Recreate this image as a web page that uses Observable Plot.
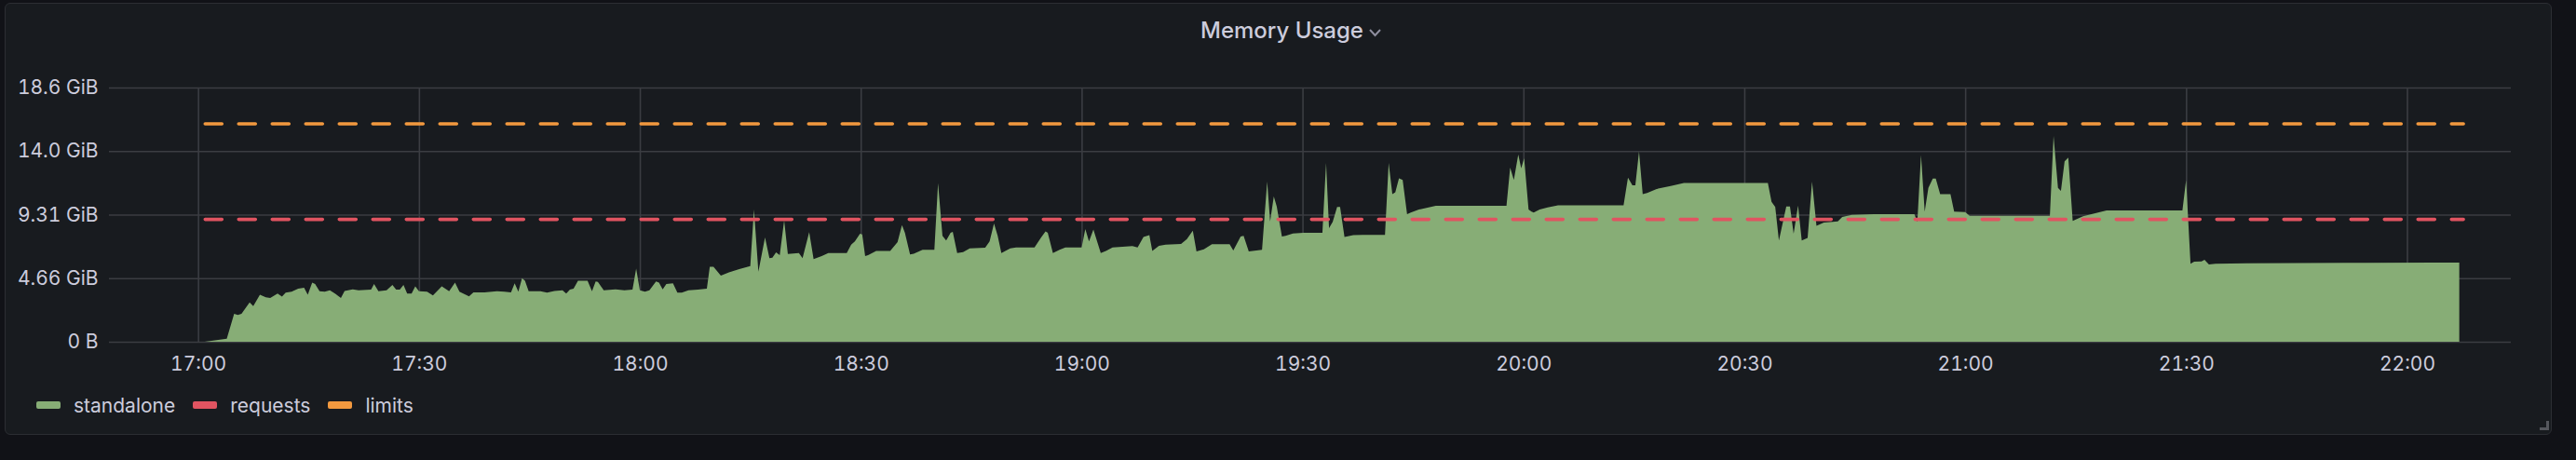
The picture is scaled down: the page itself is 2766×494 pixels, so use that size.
<!DOCTYPE html>
<html>
<head>
<meta charset="utf-8">
<script src="https://cdn.jsdelivr.net/npm/d3@7"></script>
<script src="https://cdn.jsdelivr.net/npm/@observablehq/plot@0.6"></script>
<style>
html,body{margin:0;padding:0;background:#111217;width:2766px;height:494px;overflow:hidden;font-family:Inter,"Noto Sans",sans-serif;}
#panel{position:absolute;left:5px;top:3px;width:2733px;height:462px;background:#181b1f;border:1px solid #2c2e33;border-radius:6px;}
#title{position:absolute;left:1289px;top:21px;font-size:24px;line-height:24px;font-weight:500;color:#ccccdc;white-space:nowrap;}
#chev{position:absolute;left:1470px;top:31px;}
#chart{position:absolute;left:0;top:0;}
#legend{position:absolute;left:39px;top:422px;height:26px;display:flex;align-items:center;font-size:21px;color:#ccccdc;white-space:nowrap;}
.item{display:flex;align-items:center;margin-right:19px;}
.sw{width:26px;height:8px;border-radius:2px;margin-right:14px;}
#handle{position:absolute;left:2727px;top:452px;width:7px;height:7px;border-right:3px solid #55575d;border-bottom:3px solid #55575d;}
</style>
</head>
<body>
<div id="panel"></div>
<div id="title">Memory Usage</div>
<svg id="chev" width="14" height="9"><polyline points="1,1 6.5,7 12,1" fill="none" stroke="#8e8e9e" stroke-width="2"/></svg>
<div id="chart"></div>
<div id="legend"></div>
<div id="handle"></div>
<script>
// ---- data (times in minutes after 17:00, memory in GB = 1e9 bytes) ----
const seriesNames = ["standalone", "requests", "limits"];
const seriesColors = ["#87ad76", "#e05461", "#f2993f"];

const xTickLabels = ["17:00","17:30","18:00","18:30","19:00","19:30","20:00","20:30","21:00","21:30","22:00"];
const yTickValues = [0, 5, 10, 15, 20];
const yTickLabels = ["0 B", "4.66 GiB", "9.31 GiB", "14.0 GiB", "18.6 GiB"];

const standaloneMinutes = [
  0.9,3.9,4.9,5.4,5.9,7.0,7.5,8.4,9.2,9.8,10.8,11.4,11.9,12.7,13.6,14.4,14.9,15.5,15.9,16.5,
  17.2,17.9,18.6,19.4,19.9,21.0,21.8,23.5,23.9,24.5,25.6,26.4,26.9,27.4,27.9,28.4,29.0,29.5,30.0,31.1,
  31.9,33.1,34.1,34.9,35.5,36.8,37.4,38.9,40.6,41.6,42.5,43.0,43.5,44.0,44.4,44.9,45.7,46.5,47.4,48.4,
  49.5,50.0,50.5,51.0,51.6,52.9,53.5,54.0,54.3,55.1,56.7,57.9,59.0,59.5,60.0,60.7,61.3,62.2,62.6,63.1,
  63.6,64.5,65.1,65.7,66.6,67.9,69.1,69.5,70.0,71.0,72.1,73.5,75.0,75.5,76.1,77.0,77.6,78.0,78.5,79.0,
  79.6,80.1,81.6,82.1,83.0,83.6,84.7,85.6,88.1,88.7,89.2,89.9,90.2,90.6,91.0,92.1,94.0,95.0,95.6,96.0,
  96.7,97.2,98.4,100.0,100.5,101.1,101.6,102.2,102.5,103.1,103.9,104.8,106.9,107.5,108.1,108.6,109.1,110.3,111.1,113.6,
  114.5,115.1,115.4,116.1,117.0,117.8,120.0,120.5,121.0,121.6,122.6,123.3,124.2,126.9,127.6,128.4,129.2,129.6,130.5,131.4,
  133.5,134.3,135.1,135.6,136.6,137.7,140.1,140.6,141.6,142.0,142.7,144.5,145.2,145.6,146.1,146.5,147.2,147.7,148.7,150.1,
  152.7,153.2,153.6,154.1,154.7,155.1,155.7,156.9,158.2,161.2,161.7,162.2,162.6,163.1,163.6,164.2,164.7,165.8,168.1,177.7,
  178.2,178.7,179.3,179.7,180.1,180.7,181.1,181.4,182.2,183.3,184.7,193.6,194.2,194.8,195.2,195.7,196.2,196.8,198.3,200.0,
  201.8,213.2,213.7,214.2,214.7,215.7,216.2,216.7,217.3,217.8,218.6,219.2,219.8,220.8,222.0,222.7,223.3,224.6,227.6,233.1,
  233.5,234.0,234.5,235.0,235.6,236.0,236.6,238.0,238.5,240.0,240.6,251.5,252.0,252.6,253.0,253.5,254.0,254.6,256.0,259.2,
  269.5,270.0,270.6,271.1,272.1,272.5,273.1,274.0,278.2,291.9,303.7,307.1
];
const standaloneGB = [
  0,0.24,2.2,2.1,2.2,3.1,2.8,3.7,3.5,3.45,3.8,3.55,3.86,3.93,4.18,4.25,3.7,4.66,4.54,3.98,
  3.93,4.05,3.8,3.44,4.0,4.13,4.05,4.1,4.54,3.98,4.05,4.47,4.1,4.1,4.47,3.8,3.8,4.35,3.98,3.93,
  3.64,4.35,3.98,4.66,3.93,3.57,3.88,3.88,3.98,3.93,3.88,4.59,3.93,5.0,4.79,3.98,3.98,3.98,3.86,4.0,
  4.05,3.8,4.1,4.18,4.79,4.79,3.98,4.74,4.71,4.05,4.13,4.05,4.1,5.76,4.05,3.93,4.05,4.74,4.66,4.13,
  4.54,4.59,3.86,3.86,4.05,4.1,4.18,5.89,5.89,5.2,5.45,5.71,5.96,10.4,5.52,8.2,6.57,6.62,7.03,6.81,
  9.55,6.91,6.98,6.57,8.62,6.5,6.74,6.98,6.98,7.64,7.89,8.5,8.45,6.74,6.81,7.15,7.15,7.84,9.18,8.57,
  6.86,6.93,7.23,7.23,12.48,8.33,7.96,8.57,8.64,6.98,7.06,7.35,7.4,7.89,9.3,8.33,6.98,7.35,7.42,7.42,
  8.2,8.69,8.57,6.98,7.23,7.42,7.42,8.86,7.89,8.82,6.98,7.15,7.42,7.52,7.42,8.25,8.38,7.15,7.55,7.64,
  7.69,8.08,8.74,7.11,7.28,7.67,7.67,7.18,8.28,8.33,7.11,7.23,12.6,9.47,11.43,10.65,8.28,8.33,8.52,8.57,
  8.57,14.07,8.94,9.43,10.6,10.6,8.25,8.38,8.4,8.4,14.07,11.62,11.75,12.85,12.72,10.04,10.16,10.4,10.7,10.7,
  13.7,12.72,14.72,13.65,14.43,10.4,10.23,10.16,10.4,10.57,10.74,10.74,12.92,12.31,12.31,14.97,11.62,11.7,12.06,12.26,
  12.5,12.5,11.01,10.6,7.96,10.65,10.65,8.5,10.72,7.96,8.16,12.6,9.13,9.38,9.43,9.47,9.82,9.99,10.04,10.04,
  9.43,14.68,10.23,12.11,12.84,12.84,11.62,11.62,10.23,10.21,9.91,9.91,16.19,12.11,11.87,14.19,14.48,9.5,9.87,10.33,
  10.33,12.72,6.13,6.3,6.32,6.45,6.08,6.13,6.18,6.2,6.23,6.23
];
const thresholdMinutes = [0.9, 307.6];
const requestsGiB = 9;
const limitsGiB = 16;
const xDomainMinutes = [-12.1, 314.1];
const yDomainGB = [0, 20];

// ---- build ----
const base = Date.UTC(2024, 0, 1, 17, 0, 0);
const toDate = m => new Date(base + m * 60000);
const GiBtoGB = g => g * Math.pow(2, 30) / 1e9;

const standalone = standaloneMinutes.map((m, i) => ({t: toDate(m), v: standaloneGB[i]}));
const requests = thresholdMinutes.map(m => ({t: toDate(m), v: GiBtoGB(requestsGiB)}));
const limits = thresholdMinutes.map(m => ({t: toDate(m), v: GiBtoGB(limitsGiB)}));
const xTicks = xTickLabels.map(s => {
  const [h, mm] = s.split(":").map(Number);
  return new Date(Date.UTC(2024, 0, 1, h, mm, 0));
});

const gridColor = "#3b3d42";
const chart = Plot.plot({
  width: 2766,
  height: 420,
  marginLeft: 117,
  marginRight: 70,
  marginTop: 94,
  marginBottom: 53,
  style: {background: "transparent", color: "#ccccdc", fontFamily: "Inter, 'Noto Sans', sans-serif", fontSize: "21px"},
  x: {type: "utc", domain: xDomainMinutes.map(toDate)},
  y: {domain: yDomainGB},
  marks: [
    Plot.gridY(yTickValues, {stroke: gridColor, strokeOpacity: 1, strokeWidth: 1.6}),
    Plot.gridX(xTicks, {stroke: gridColor, strokeOpacity: 1, strokeWidth: 1.6}),
    Plot.areaY(standalone, {x: "t", y: "v", fill: seriesColors[0], fillOpacity: 1, curve: "linear"}),
    Plot.line(requests, {x: "t", y: "v", stroke: seriesColors[1], strokeWidth: 3.6, strokeDasharray: "18,18"}),
    Plot.line(limits, {x: "t", y: "v", stroke: seriesColors[2], strokeWidth: 3.6, strokeDasharray: "18,18"}),
    Plot.axisY(yTickValues, {tickSize: 0, tickPadding: 12, label: null, fontSize: 21,
      tickFormat: d => yTickLabels[yTickValues.indexOf(d)]}),
    Plot.axisX(xTicks, {tickSize: 0, tickPadding: 16, label: null, fontSize: 21,
      tickFormat: d => xTickLabels[xTicks.findIndex(x => +x === +d)]})
  ]
});
document.getElementById("chart").appendChild(chart);

const legend = document.getElementById("legend");
seriesNames.forEach((name, i) => {
  const item = document.createElement("div");
  item.className = "item";
  const sw = document.createElement("div");
  sw.className = "sw";
  sw.style.background = seriesColors[i];
  const label = document.createElement("span");
  label.textContent = name;
  item.appendChild(sw);
  item.appendChild(label);
  legend.appendChild(item);
});
</script>
</body>
</html>
